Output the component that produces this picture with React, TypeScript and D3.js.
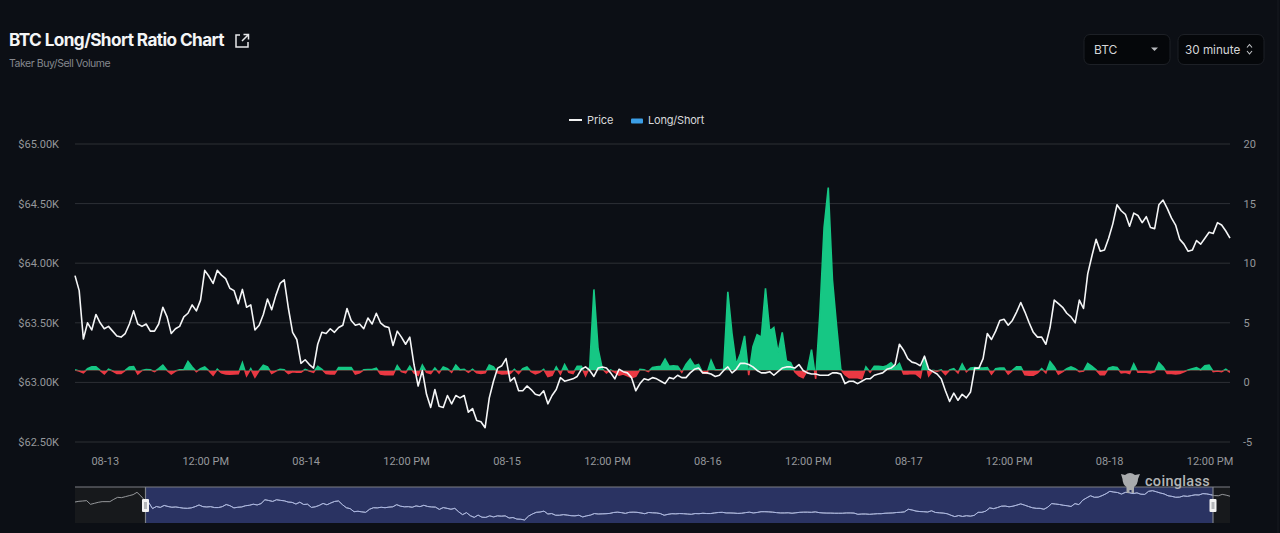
import React from "react";
import * as d3 from "d3";

const price = [
  63896,63770,63364,63500,63440,63570,63500,63450,63470,63430,63390,63380,63410,63490,63600,63490,63470,63490,63430,63430,63490,63630,63550,63410,63450,63470,63550,63580,63650,63600,63690,63940,63890,63830,63940,63900,63870,63790,63770,63660,63780,63630,63650,63440,63480,63570,63700,63610,63730,63830,63860,63620,63420,63360,63160,63190,63150,63120,63320,63420,63410,63450,63420,63460,63480,63620,63520,63480,63490,63450,63540,63490,63580,63500,63470,63460,63310,63430,63380,63320,63380,63150,62970,63100,62900,
  62790,62940,62800,62790,62890,62820,62890,62870,62890,62750,62780,62680,62670,62620,62870,63010,63120,63140,63200,63010,63040,62930,62930,62970,62940,62900,62890,62930,62820,62890,62940,63040,63010,63020,63030,63050,63110,63130,63100,63050,63120,63130,63120,63080,63030,63110,63090,63080,63040,62930,62990,63030,63020,63040,63030,63010,62990,63040,63030,63060,63040,63040,63080,63110,63120,63080,63080,63070,63050,63060,63100,63130,63080,63110,63160,63160,63150,63130,63100,63080,63080,63090,63060,63090,63120,63130,63130,63120,63150,63100,63080,63070,63070,63060,63060,63060,63080,63080,63070,62990,63010,63010,62990,
  63010,63030,63030,63060,63070,63080,63110,63120,63150,63320,63270,63200,63170,63160,63140,63220,63110,63090,63070,63030,62930,62840,62910,62850,62900,62870,62920,63120,63120,63200,63410,63360,63430,63520,63530,63480,63520,63590,63670,63590,63500,63420,63380,63380,63320,63460,63690,63660,63630,63580,63550,63500,63690,63620,63910,64060,64200,64100,64110,64210,64330,64490,64440,64410,64310,64420,64400,64340,64390,64300,64290,64490,64530,64460,64380,64320,64200,64160,64100,64110,64190,64160,64210,64260,64250,64340,64320,64270,64210,
];

const ratio = [
  1.05,0.95,0.8,1.15,1.3,1.3,1.0,0.72,1.1,0.95,0.75,0.75,1.0,1.3,1.33,0.7,1.0,1.08,1.05,0.9,1.15,1.45,1.0,0.7,0.95,1.06,1.08,1.75,1.3,0.9,1.15,1.3,0.98,0.6,1.1,0.8,0.7,0.68,0.7,0.72,1.65,0.55,1.15,0.45,1.0,1.45,1.3,0.75,0.95,1.1,1.05,0.75,0.9,0.85,0.85,1.1,0.95,0.85,1.35,1.1,0.75,0.7,0.7,1.25,1.25,1.25,1.25,0.7,0.8,1.05,1.08,1.08,1.2,0.7,0.65,0.65,0.65,1.4,0.9,0.8,1.35,0.8,0.6,1.45,0.85,
  0.75,1.2,0.8,1.3,1.15,0.85,1.45,1.05,1.1,0.85,1.1,0.8,0.75,0.8,1.45,1.3,0.8,0.7,0.72,0.75,1.1,0.75,1.15,1.3,0.9,0.72,0.85,1.1,0.5,0.6,1.3,0.7,1.5,0.85,0.75,1.35,1.35,0.55,1.3,7.8,2.8,1.15,0.8,1.05,0.85,0.6,0.7,0.55,0.4,0.5,1.1,1.05,0.9,1.25,1.3,1.35,1.95,1.35,1.4,1.35,0.85,1.5,1.95,1.4,1.5,0.8,0.75,1.85,1.05,1.05,1.1,7.6,4.1,1.5,2.4,3.9,0.6,3,4,3.8,7.9,4.3,4.6,2.5,4.2,1.8,1.65,0.9,0.55,0.4,1.0,2.75,0.3,5.8,13,16.35,8.6,4.7,1.1,0.65,0.4,0.4,0.4,
  0.3,1.3,0.85,1.35,1.35,1.3,1.4,1.65,1.25,1.6,0.7,0.7,0.75,0.7,0.4,2.1,0.55,1.0,0.95,1.05,0.65,1.05,1.15,0.8,1.55,0.9,1.2,1.25,1.2,1.2,1.25,0.7,1.15,1.2,1.2,0.7,1.0,1.3,1.3,0.65,0.6,0.6,0.8,1.15,0.8,1.75,1.3,0.7,0.9,1.15,1.3,1.15,0.9,0.95,1.6,1.35,1.05,0.65,0.65,1.2,1.3,1.25,0.8,0.85,0.75,1.55,0.85,0.85,0.85,0.8,0.9,1.65,1.3,0.75,0.75,0.7,0.75,0.9,1.05,1.15,1.25,1.05,1.4,1.45,0.9,0.95,0.9,1.1,0.85,
];

const overviewBefore = [63794,63837,63859,63881,63642,63707,63772,63816,63816,63816,63968,64098,64076,64141,64207,64272,64424,64185];
const overviewAfter = [64200,64290,64240,64170];

const priceTicks = [62500,63000,63500,64000,64500,65000];
const ratioTicks = [-5,0,5,10,15,20];
const timeLabels = ["08-13","12:00 PM","08-14","12:00 PM","08-15","12:00 PM","08-16","12:00 PM","08-17","12:00 PM","08-18","12:00 PM"];

const FONT = "Inter, Roboto, sans-serif";
const TICK_FONT = "Roboto, sans-serif";
const BG = "#0c0f15";
const GREEN = "#16c784";
const RED = "#ea3943";

export default function App() {
  const L = 75, R = 1230, T = 144, B = 442;
  const x = d3.scaleLinear().domain([0, ratio.length - 1]).range([L, R]);
  const yP = d3.scaleLinear().domain([62500, 65000]).range([B, T]);
  const yR = d3.scaleLinear().domain([-5, 20]).range([B, T]);
  const base = yR(1);

  const area = d3.area<number>().x((_, i) => x(i)).y0(base).y1((d) => yR(d));
  const ratioLine = d3.line<number>().x((_, i) => x(i)).y((d) => yR(d));
  const line = d3.line<number>().x((_, i) => x(i)).y((d) => yP(d));

  const overview = [...overviewBefore, ...price, ...overviewAfter];
  const oT = 487, oB = 523;
  const ox = d3.scaleLinear().domain([0, overview.length - 1]).range([L, R]);
  const oy = d3.scaleLinear().domain([62424, 64771]).range([oB, oT]);
  const oLine = d3.line<number>().x((_, i) => ox(i)).y((d) => oy(d));
  const sel0 = 145.5, sel1 = 1213;
  const o = oLine(overview) as string;

  return (
    <svg width={1280} height={533} viewBox="0 0 1280 533"
      style={{ position: "absolute", left: 0, top: 0, display: "block", background: BG, fontFamily: FONT }}>
      <defs>
        <clipPath id="above"><rect x={L} y={0} width={R - L} height={base} /></clipPath>
        <clipPath id="below"><rect x={L} y={base} width={R - L} height={533 - base} /></clipPath>
        <clipPath id="selIn"><rect x={sel0} y={oT} width={sel1 - sel0} height={oB - oT} /></clipPath>
      </defs>

      <line x1={1278} x2={1278} y1={0} y2={533} stroke="#171a20" strokeWidth={1} />

      <text x={9} y={46} fontSize={17.2} fontWeight={700} fill="#f4f5f6" letterSpacing={-0.6}>BTC Long/Short Ratio Chart</text>
      <g fill="none" stroke="#e6e7e9" strokeWidth={1.5}>
        <path d="M240 35 H236 V47 H248 V42" />
        <path d="M242 41 L248 35 M243.500 34.500 H248.500 V39.500" />
      </g>
      <text x={9} y={66.500} fontSize={10.500} fill="#85888e" letterSpacing={-0.45}>Taker Buy/Sell Volume</text>

      <rect x={1084} y={34.500} width={86} height={30} rx={6} fill="#05070a" stroke="#1d2026" />
      <text x={1094} y={53.500} fontSize={12} fill="#d4d5d8">BTC</text>
      <path d="M1151 47.500 h7 l-3.500 3.500 z" fill="#b8babd" />
      <rect x={1178} y={34.500} width={86} height={30} rx={6} fill="#05070a" stroke="#1d2026" />
      <text x={1185} y={53.500} fontSize={11.700} fill="#d4d5d8">30 minute</text>
      <path d="M1247 47.500 l2.500 -3 l2.500 3 M1247 51 l2.500 3 l2.500 -3" fill="none" stroke="#c4c6c9" strokeWidth={1.100} />

      <line x1={569} x2={582} y1={120} y2={120} stroke="#f2f2f2" strokeWidth={2} />
      <text x={587} y={124} fontSize={11} fill="#d8d9db" letterSpacing={-0.1}>Price</text>
      <rect x={631} y={118.500} width={12} height={5} rx={1} fill="#3b9ee6" />
      <text x={648} y={124} fontSize={11} fill="#d8d9db" letterSpacing={-0.2}>Long/Short</text>

      {priceTicks.map((t) => (
        <g key={t}>
          <line x1={L} x2={R} y1={yP(t)} y2={yP(t)} stroke="#2d3035" strokeWidth={1} />
          <text x={59} y={yP(t) + 4} textAnchor="end" fontSize={11} fill="#95979b" fontFamily={TICK_FONT}>
            {"$" + (t / 1000).toFixed(2) + "K"}
          </text>
        </g>
      ))}
      {ratioTicks.map((t) => (
        <text key={t} x={t < 0 ? 1243 : 1243.500} y={yR(t) + 4} fontSize={11} fill="#95979b" fontFamily={TICK_FONT}>{t}</text>
      ))}
      {timeLabels.map((t, i) => (
        <text key={i} x={x(7 + i * 24) + 1} y={465} textAnchor="middle" fontSize={11} fill="#95979b" fontFamily={TICK_FONT}>{t}</text>
      ))}

      <path d={area(ratio) as string} fill={GREEN} clipPath="url(#above)" />
      <path d={area(ratio) as string} fill={RED} clipPath="url(#below)" />
      <path d={ratioLine(ratio) as string} fill="none" stroke={GREEN} strokeWidth={1.600} clipPath="url(#above)" />
      <path d={ratioLine(ratio) as string} fill="none" stroke={RED} strokeWidth={1.600} clipPath="url(#below)" />
      <path d={line(price) as string} fill="none" stroke="#f5f6f7" strokeWidth={1.600} strokeLinejoin="round" />

      <rect x={L} y={oT} width={R - L} height={oB - oT} fill="#17191c" />
      <rect x={sel0} y={oT} width={sel1 - sel0} height={oB - oT} fill="#2a3362" />
      <path d={o} fill="none" stroke="#a3a5a8" strokeWidth={0.900} />
      <path d={o} fill="none" stroke="#a9b6e6" strokeWidth={1} clipPath="url(#selIn)" />
      <line x1={L} x2={R} y1={oT} y2={oT} stroke="#7d7f83" strokeWidth={1.200} />
      {[sel0, sel1].map((s) => (
        <g key={s}>
          <line x1={s} x2={s} y1={oT} y2={oB} stroke="#7d8088" strokeWidth={1.200} />
          <rect x={s - 3.500} y={499} width={7} height={13} rx={1} fill="#f2f2f2" />
          <rect x={s - 1.500} y={502} width={3} height={7} fill="#b5b7ba" />
        </g>
      ))}

      <g fill="#a9abad">
        <path d="M1121 474 l4 1 q5 -4 10 0 l5 -1 l-2 5 q0 5 -4 8 l0 6 h-2.500 l0 -3 h-2 l0 3 h-3 l0 -6 q-4 -3 -4 -8 z" />
      </g>
      <text x={1145} y={486} fontSize={14.500} fontWeight={500} fill="#b3b5b7" fontFamily="Roboto, sans-serif" letterSpacing={0.3}>coinglass</text>
    </svg>
  );
}
